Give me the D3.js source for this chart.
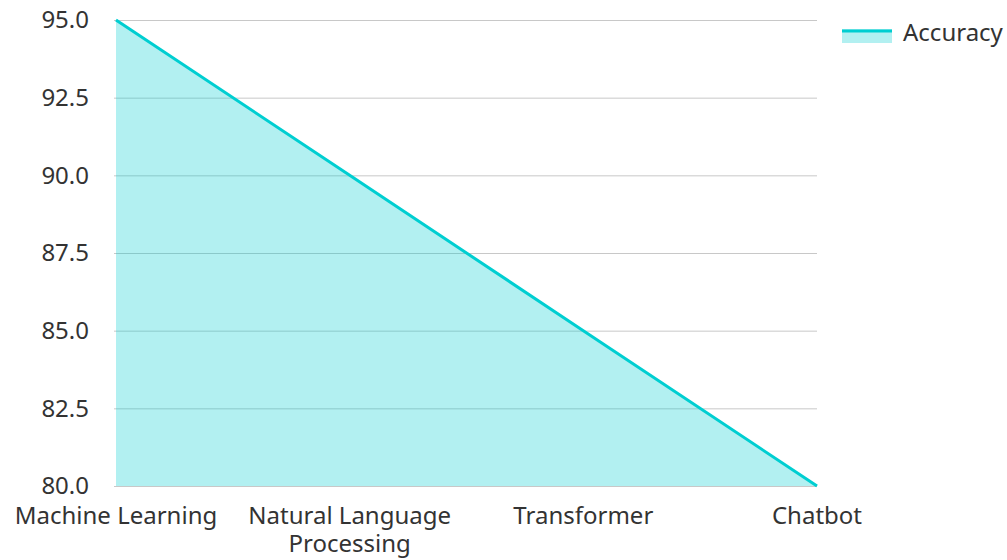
<!DOCTYPE html>
<html><head>
<meta charset="utf-8">
<script src="https://d3js.org/d3.v7.min.js"></script>
<style>
  body { margin: 0; background: #fff; }
  svg text { font-family: "Noto Sans", "Open Sans", sans-serif; fill: #333; }
  .gridlines line { stroke: #c8c8c8; }
  .gridlines .domain { stroke: none; }
</style>
</head>
<body>
<svg id="chart" width="1007" height="560"></svg>
<script>
  // data
  const categories = ["Machine Learning", "Natural Language Processing", "Transformer", "Chatbot"];
  const accuracy = [95, 90, 85, 80];
  const yTicks = [80, 82.5, 85, 87.5, 90, 92.5, 95];
  const seriesName = "Accuracy";

  const svg = d3.select("svg#chart");
  const margin = {top: 20, right: 190, bottom: 74, left: 116};
  const chartWidth = 1007 - margin.left - margin.right;
  const chartHeight = 560 - margin.top - margin.bottom;
  const lineColor = "#00ced1";
  const fontSize = "24px";

  const xScale = d3.scalePoint().domain(categories).range([0, chartWidth]);
  const yScale = d3.scaleLinear().domain([80, 95]).range([chartHeight, 0]);

  const chartArea = svg.append("g")
    .attr("transform", "translate(" + margin.left + "," + margin.top + ")");

  // gridlines
  chartArea.append("g")
    .attr("class", "gridlines")
    .attr("transform", "translate(-2,0)")
    .call(d3.axisLeft(yScale).tickValues(yTicks).tickSize(-chartWidth - 2).tickFormat(""));

  // y labels
  chartArea.append("g").selectAll("text")
    .data(yTicks)
    .join("text")
    .attr("x", -27)
    .attr("y", d => yScale(d))
    .attr("dy", "0.35em")
    .attr("text-anchor", "end")
    .style("font-size", fontSize)
    .text(d => d3.format(".1f")(d));

  // x labels (wrapped)
  const wrapAt = 18;
  chartArea.append("g").selectAll("text")
    .data(categories)
    .join("text")
    .attr("text-anchor", "middle")
    .style("font-size", fontSize)
    .each(function(d) {
      let words = d.split(" "), lines = [], cur = "";
      words.forEach(w => {
        if (cur && (cur + " " + w).length > wrapAt) { lines.push(cur); cur = w; }
        else cur = cur ? cur + " " + w : w;
      });
      lines.push(cur);
      d3.select(this).selectAll("tspan")
        .data(lines)
        .join("tspan")
        .attr("x", xScale(d))
        .attr("y", (l, i) => chartHeight + 38 + i * 28)
        .text(l => l);
    });

  // area + line
  const pts = categories.map((c, i) => ({c: c, v: accuracy[i]}));
  chartArea.append("path")
    .datum(pts)
    .attr("fill", lineColor)
    .attr("fill-opacity", 0.3)
    .attr("d", d3.area().x(d => xScale(d.c)).y0(yScale(80)).y1(d => yScale(d.v)));

  chartArea.append("path")
    .datum(pts)
    .attr("fill", "none")
    .attr("stroke", lineColor)
    .attr("stroke-width", 3)
    .attr("d", d3.line().x(d => xScale(d.c)).y(d => yScale(d.v)));

  // legend
  const legend = svg.append("g").attr("transform", "translate(842,29)");
  legend.append("rect")
    .attr("width", 50).attr("height", 14)
    .attr("fill", lineColor).attr("fill-opacity", 0.3);
  legend.append("line")
    .attr("x1", 0).attr("x2", 50).attr("y1", 2).attr("y2", 2)
    .attr("stroke", lineColor).attr("stroke-width", 3);
  legend.append("text")
    .attr("x", 61).attr("y", 4)
    .attr("dy", "0.35em")
    .style("font-size", fontSize)
    .text(seriesName);
</script>
</body>
</html>
